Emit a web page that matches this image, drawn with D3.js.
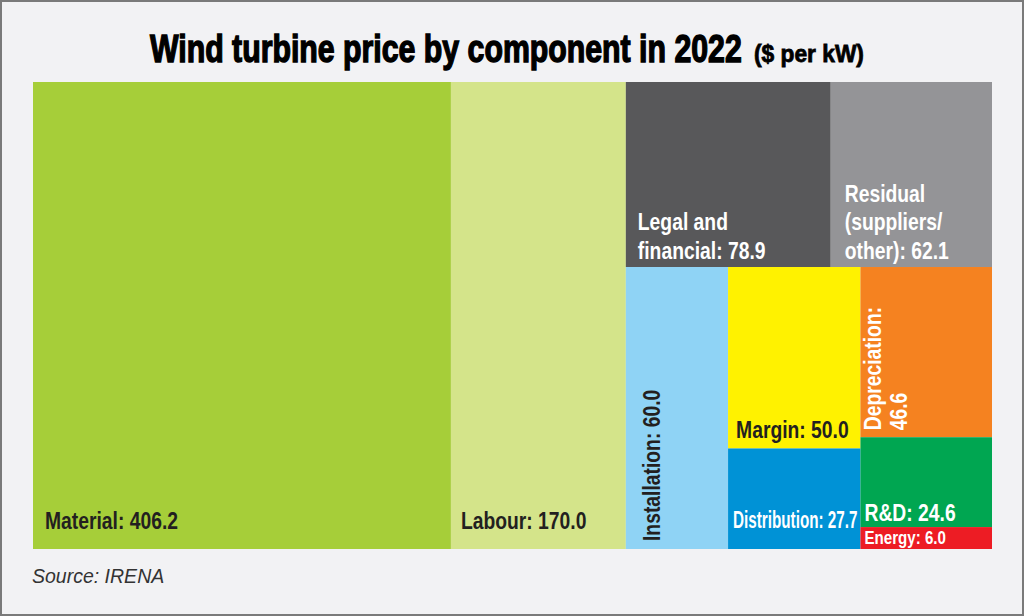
<!DOCTYPE html>
<html lang="en">
    <head>
        <meta charset="utf-8">
        <title>Wind turbine price by component</title>
        <script type="text/javascript" src="https://d3js.org/d3.v7.min.js"></script>
        <style type="text/css">
            body { margin: 0; background: #f2f2f4; }
            svg { display: block; }
            .lbl { font-family: "Liberation Sans", Arial, sans-serif; font-weight: bold; }
        </style>
    </head>
    <body>
        <script type="text/javascript">

            // data (US$ per kW)
            var names = ["Material", "Labour", "Legal and financial", "Residual (suppliers/ other)",
                         "Installation", "Margin", "Distribution", "Depreciation", "R&D", "Energy"];
            var values = [406.2, 170.0, 78.9, 62.1, 60.0, 50.0, 27.7, 46.6, 24.6, 6.0];
            var labelLines = [["Material: 406.2"], ["Labour: 170.0"], ["Legal and", "financial: 78.9"],
                              ["Residual", "(suppliers/", "other): 62.1"], ["Installation: 60.0"],
                              ["Margin: 50.0"], ["Distribution: 27.7"], ["Depreciation:", "46.6"],
                              ["R&D: 24.6"], ["Energy: 6.0"]];
            var colors = ["#a6ce39", "#d4e48a", "#58585a", "#949497", "#8fd3f5",
                          "#fff200", "#0092d6", "#f58220", "#00a651", "#ed1c24"];

            var w = 1024, h = 616;
            var margin = {top: 82, right: 32, bottom: 67, left: 33};

            var svg = d3.select("body").append("svg")
                        .attr("width", w)
                        .attr("height", h);

            svg.append("rect")
                .attr("x", 1).attr("y", 1)
                .attr("width", w - 2).attr("height", h - 2)
                .attr("fill", "#f2f2f4")
                .attr("stroke", "#7a7a7a")
                .attr("stroke-width", 2);

            // nesting of the blocks: "x" splits side by side, "y" stacks
            function leaf(i) { return {idx: i, value: values[i]}; }
            var tree = {split: "x", children: [
                leaf(0), leaf(1),
                {split: "y", children: [
                    {split: "x", children: [leaf(2), leaf(3)]},
                    {split: "x", children: [
                        leaf(4),
                        {split: "y", children: [leaf(5), leaf(6)]},
                        {split: "y", children: [leaf(7), leaf(8), leaf(9)]}
                    ]}
                ]}
            ]};

            var root = d3.hierarchy(tree).sum(function(d) { return d.children ? 0 : d.value; });

            d3.treemap()
                .size([w - margin.left - margin.right, h - margin.top - margin.bottom])
                .paddingInner(0)
                .tile(function(node, x0, y0, x1, y1) {
                    if (node.data.split === "y") d3.treemapSlice(node, x0, y0, x1, y1);
                    else d3.treemapDice(node, x0, y0, x1, y1);
                })(root);

            var g = svg.append("g")
                .attr("transform", "translate(" + margin.left + "," + margin.top + ")");

            var cells = g.selectAll("g.cell")
                .data(root.leaves())
                .enter()
                .append("g")
                .attr("class", "cell");

            cells.append("rect")
                .attr("x", function(d) { return d.x0; })
                .attr("y", function(d) { return d.y0; })
                .attr("width", function(d) { return d.x1 - d.x0; })
                .attr("height", function(d) { return d.y1 - d.y0; })
                .attr("fill", function(d) { return colors[d.data.idx]; });

            // label placement per block
            var place = {
                0: {dx: 12, dy: -20, fill: "#231f20"},
                1: {dx: 10, dy: -20, fill: "#231f20"},
                2: {dx: 12, dy: -8, fill: "#fff"},
                3: {dx: 14, dy: -8, fill: "#fff"},
                4: {dx: 34, dy: -8, fill: "#231f20", rot: true},
                5: {dx: 8, dy: -10, fill: "#231f20"},
                6: {dx: 5, dy: -21, fill: "#fff"},
                7: {dx: 21, dy: -7, fill: "#fff", rot: true},
                8: {dx: 4, dy: -6, fill: "#fff"},
                9: {dx: 4, dy: -5, fill: "#fff", size: 18}
            };
            var lineH = 28.7, squeeze = 0.84;

            cells.each(function(d) {
                var p = place[d.data.idx];
                var lines = labelLines[d.data.idx];
                var n = lines.length;
                var bx = d.x0 + p.dx, by = d.y1 + p.dy;
                var t = d3.select(this).append("text")
                    .attr("class", "lbl")
                    .attr("fill", p.fill)
                    .style("font-size", (p.size || 23) + "px");
                lines.forEach(function(s, i) {
                    t.append("tspan")
                        .attr("x", 0)
                        .attr("y", p.rot ? i * 26 : -(n - 1 - i) * lineH)
                        .text(s);
                });
                // squeeze to a narrow face, and a bit more if the block is too small
                var len = t.node().getBBox().width;
                var room = p.rot ? (d.y1 - d.y0) - 2 * Math.abs(p.dy) : (d.x1 - d.x0) - p.dx - 3;
                var sx = Math.min(squeeze, room / len);
                t.attr("transform", "translate(" + bx + "," + by + ")" + (p.rot ? "rotate(-90)" : "") +
                       "scale(" + sx + ",1)");
            });

            // title, squeezed horizontally to a condensed look
            function squeezedText(x, y, width, size, stroke, str) {
                var t = svg.append("text")
                    .style("font-family", "'Liberation Sans', sans-serif")
                    .style("font-weight", "bold")
                    .style("font-size", size + "px")
                    .attr("stroke", "#000")
                    .attr("stroke-width", stroke)
                    .text(str);
                var len = t.node().getComputedTextLength();
                t.attr("transform", "translate(" + x + "," + y + ")scale(" + (width / len) + ",1)");
                return t;
            }
            squeezedText(150, 62, 592, 38, 1.4, "Wind turbine price by component in 2022");
            squeezedText(754, 62, 110, 24, 0.8, "($ per kW)");

            svg.append("text")
                .attr("x", 32).attr("y", 583)
                .style("font-family", "'Liberation Sans', sans-serif")
                .style("font-style", "italic")
                .style("font-size", "19.5px")
                .attr("fill", "#333")
                .text("Source: IRENA");

        </script>
    </body>
</html>
